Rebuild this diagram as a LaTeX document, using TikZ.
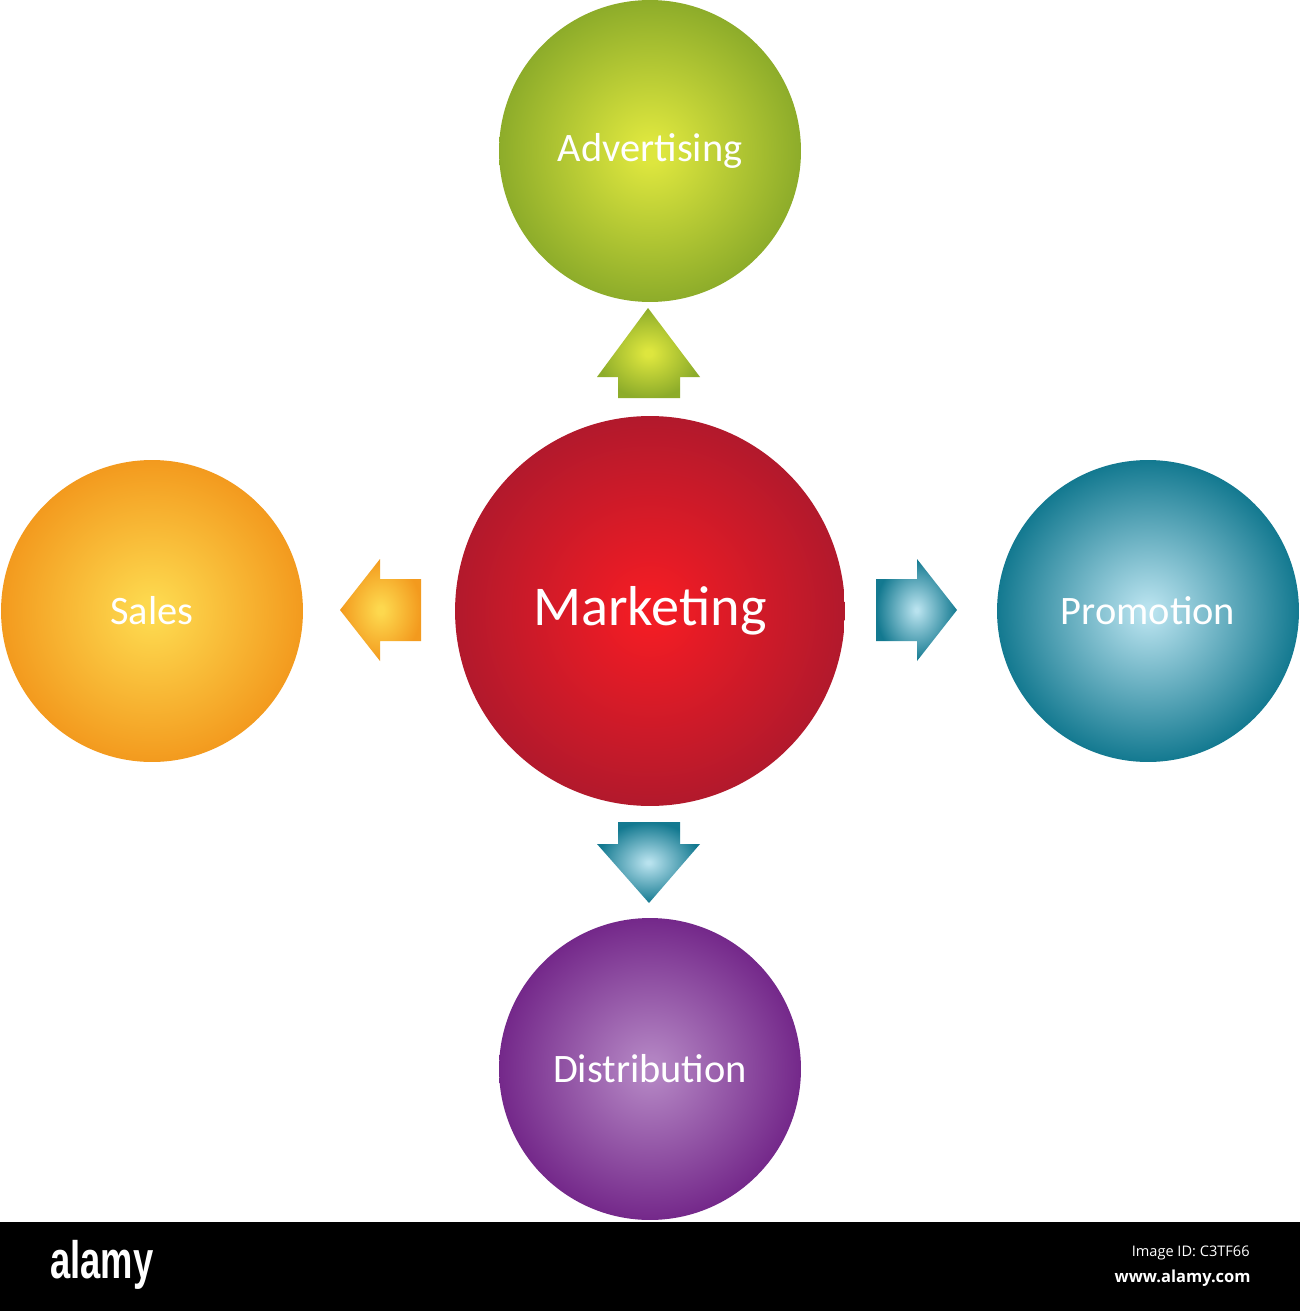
\documentclass[tikz,border=0pt]{standalone}
\usepackage{fontspec}
\setmainfont{Carlito}
\newfontfamily\logofont{Liberation Sans}
\newfontfamily\idfont{Open Sans}
\definecolor{gin}{HTML}{DDE63E}\definecolor{gout}{HTML}{8DAC2A}
\definecolor{rin}{HTML}{F21C24}\definecolor{rout}{HTML}{B2192C}
\definecolor{oin}{HTML}{FDD84E}\definecolor{oout}{HTML}{F39A1E}
\definecolor{tin}{HTML}{B8E2EE}\definecolor{tout}{HTML}{137990}
\definecolor{pin}{HTML}{B283C2}\definecolor{pout}{HTML}{74288A}
\pgfdeclareradialshading{greenball}{\pgfpoint{0bp}{0bp}}{color(0bp)=(gin); color(2bp)=(gin); color(25bp)=(gout); color(50bp)=(gout)}
\pgfdeclareradialshading{redball}{\pgfpoint{0bp}{0bp}}{color(0bp)=(rin); color(2bp)=(rin); color(25bp)=(rout); color(50bp)=(rout)}
\pgfdeclareradialshading{orangeball}{\pgfpoint{0bp}{0bp}}{color(0bp)=(oin); color(2bp)=(oin); color(25bp)=(oout); color(50bp)=(oout)}
\pgfdeclareradialshading{tealball}{\pgfpoint{0bp}{0bp}}{color(0bp)=(tin); color(1bp)=(tin); color(25bp)=(tout); color(50bp)=(tout)}
\pgfdeclareradialshading{purpleball}{\pgfpoint{0bp}{0bp}}{color(0bp)=(pin); color(2bp)=(pin); color(25bp)=(pout); color(50bp)=(pout)}
\tikzset{
  ball/.style={circle, inner sep=0pt, minimum size=6.04cm, text=white, font=\fontsize{23}{27}\selectfont},
  bigball/.style={ball, minimum size=7.8cm, font=\fontsize{32}{36}\selectfont},
}
\begin{document}
\begin{tikzpicture}[x=0.02cm,y=-0.02cm]
\useasboundingbox (0,0) rectangle (1300,1311);
\fill[white] (0,0) rectangle (1300,1311);
% circles
\node[bigball, shading=redball] (mkt) at (650,611) {Marketing};
\node[ball, shading=greenball] (adv) at (650,151) {Advertising};
\node[ball, shading=orangeball] (sal) at (152,611) {Sales};
\node[ball, shading=tealball] (pro) at (1148,611) {Promotion};
\node[ball, shading=purpleball] (dis) at (650,1069) {Distribution};
% block arrows
\shade[shading=greenball] (648,308) -- (700,377) -- (680,377) -- (680,398) -- (618,398) -- (618,377) -- (597,377) -- cycle;
\shade[shading=orangeball] (340,610) -- (380,559) -- (380,579) -- (421,579) -- (421,641) -- (380,641) -- (380,661) -- cycle;
\shade[shading=tealball] (957,610) -- (917,559) -- (917,579) -- (876,579) -- (876,641) -- (917,641) -- (917,661) -- cycle;
\shade[shading=tealball] (649,903) -- (700,844) -- (680,844) -- (680,822) -- (618,822) -- (618,844) -- (597,844) -- cycle;
% bottom bar
\fill[black] (0,1222) rectangle (1300,1311);
\node[text=white, font=\logofont\bfseries\fontsize{30}{30}\selectfont, xscale=0.69, anchor=west, inner sep=0pt] (logo) at (50,1265) {alamy};
\node[text=white, font=\idfont\fontsize{8.3}{10}\selectfont, anchor=east, inner sep=0pt] (imgid) at (1250,1253) {Image ID: C3TF66};
\node[text=white, font=\idfont\bfseries\fontsize{9.4}{11}\selectfont, anchor=east, inner sep=0pt] (web) at (1251,1278) {www.alamy.com};
\end{tikzpicture}
\end{document}
